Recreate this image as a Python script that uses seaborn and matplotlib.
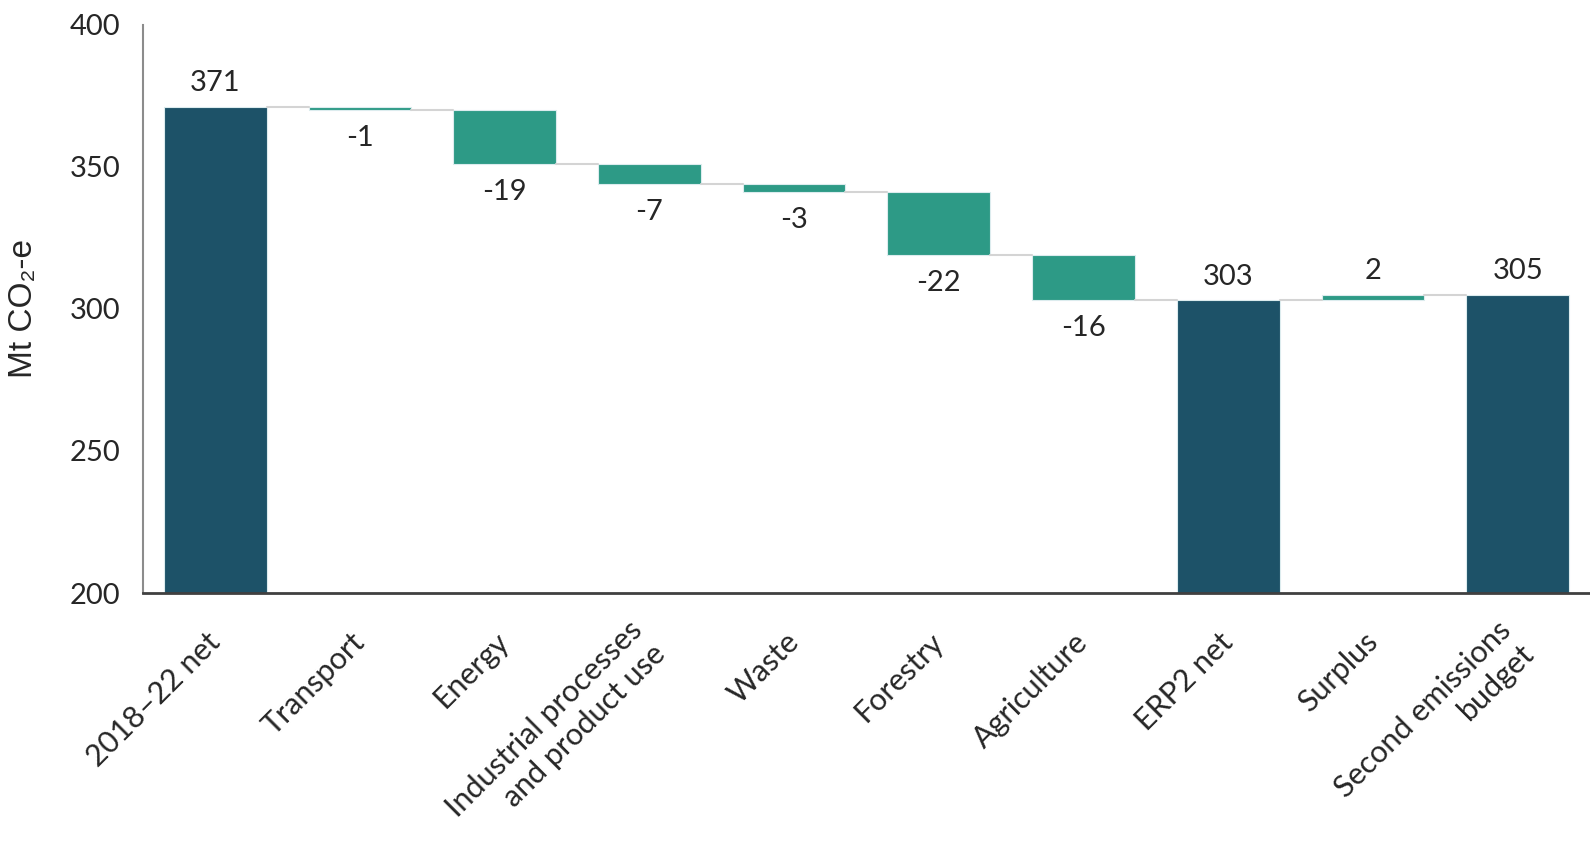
import matplotlib
matplotlib.use('Agg')
import matplotlib.pyplot as plt
import seaborn as sns
import numpy as np

# Waterfall data
categories = ['2018–22 net', 'Transport', 'Energy', 'Industrial processes\nand product use',
              'Waste', 'Forestry', 'Agriculture', 'ERP2 net', 'Surplus',
              'Second emissions\nbudget']
values = [371, -1, -19, -7, -3, -22, -16, 303, 2, 305]
is_total = [True, False, False, False, False, False, False, True, False, True]
y_ticks = [200, 250, 300, 350, 400]

DARK = '#1d5268'
GREEN = '#2d9a86'

# running levels -> bottoms and heights of each bar
bottoms, heights, tops = [], [], []
level = 0
for v, tot in zip(values, is_total):
    if tot:
        bottoms.append(0)
        heights.append(v)
        level = v
    else:
        bottoms.append(min(level, level + v))
        heights.append(abs(v))
        level = level + v
    tops.append(level)

sns.set_theme(style='white')
plt.rcParams['font.family'] = ['Lato', 'DejaVu Sans']

fig = plt.figure(figsize=(15.9, 8.48), dpi=100)
ax = fig.add_axes([0.0899, 0.3007, 0.9101, 0.6703])

sns.barplot(x=categories, y=heights, bottom=bottoms, width=0.71,
            color=GREEN, edgecolor='#dcecee', linewidth=0.8, ax=ax)
for patch, tot in zip(ax.patches, is_total):
    patch.set_facecolor(DARK if tot else GREEN)

# connector lines between bars
half = 0.71 / 2
for i in range(len(values) - 1):
    ax.plot([i + half, i + 1 - half], [tops[i], tops[i]],
            color='#d4d4d4', lw=1.5, zorder=1)

# value labels
for i, (v, tot) in enumerate(zip(values, is_total)):
    if tot or v > 0:
        y = bottoms[i] + heights[i]
        off = 17
    else:
        y = bottoms[i]
        off = -20
    ax.annotate(f'{v}', (i, y), xytext=(0, off), textcoords='offset points',
                ha='center', va='center', fontsize=21, color='#262626')

ax.set_ylim(200, 400)
ax.set_xlim(-0.5, len(values) - 0.5)
ax.set_yticks(y_ticks)
ax.tick_params(axis='y', labelsize=21, colors='#262626', length=0, pad=16)
ax.tick_params(axis='x', length=0, pad=32)
ax.set_xticks(range(len(categories)))
ax.set_xticklabels(categories, rotation=45, ha='right', va='center',
                   rotation_mode='anchor', fontsize=22, color='#262626',
                   multialignment='right')
ax.set_xlabel('')
ax.set_ylabel('Mt CO₂-e', fontsize=24, color='#262626',
              family=['Liberation Sans', 'DejaVu Sans'], labelpad=22)

for side in ['top', 'right']:
    ax.spines[side].set_visible(False)
ax.spines['left'].set_color('#8c8c8c')
ax.spines['left'].set_linewidth(1.5)
ax.spines['bottom'].set_color('#404040')
ax.spines['bottom'].set_linewidth(2)

fig.savefig('out.png', dpi=100)
